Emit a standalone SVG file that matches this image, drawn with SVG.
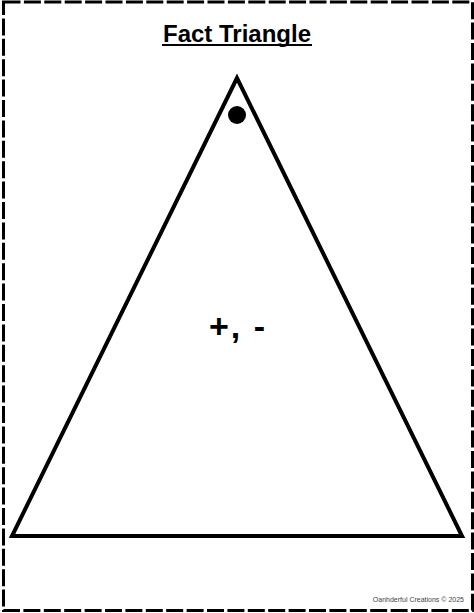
<svg xmlns="http://www.w3.org/2000/svg" width="474" height="613" viewBox="0 0 474 613">
<style>
.title{font-family:"Liberation Sans",Arial,sans-serif;font-weight:bold;font-size:24px;fill:#000}
.ops{font-family:"Liberation Sans",Arial,sans-serif;font-weight:bold;font-size:34px;fill:#000;letter-spacing:2px}
.foot{font-family:"Liberation Sans",Arial,sans-serif;font-size:7px;fill:#444}
</style>
<rect width="474" height="613" fill="#fff"/>
<rect id="border" x="3.5" y="2" width="469" height="608.5" fill="none" stroke="#000" stroke-width="3" stroke-dasharray="17 3.4"/>
<g id="title">
<text class="title" x="237" y="42" text-anchor="middle">Fact Triangle</text>
<line x1="162" y1="45" x2="312" y2="45" stroke="#000" stroke-width="2"/>
</g>
<g id="triangle">
<polygon points="237,78 12,536 462,536" fill="none" stroke="#000" stroke-width="4" stroke-linejoin="miter"/>
<circle cx="237" cy="115" r="9" fill="#000"/>
<text class="ops" x="238" y="338" text-anchor="middle">+, -</text>
</g>
<g id="connectors"></g>
<text class="foot" x="464" y="602" text-anchor="end">Oanhderful Creations ©  2025</text>
</svg>
